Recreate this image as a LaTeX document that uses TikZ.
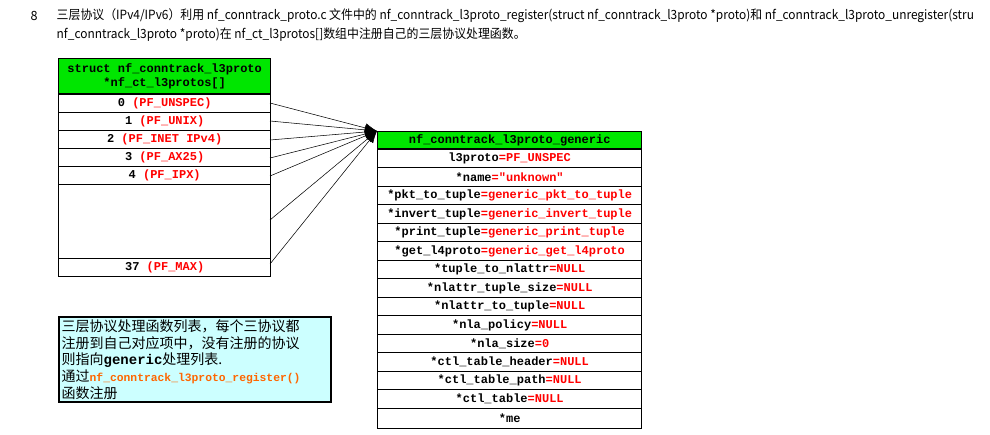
\documentclass[tikz,border=0pt]{standalone}
\usepackage{fontspec}
\setmainfont{Liberation Sans}
\newfontfamily\cjk{Noto Sans CJK SC}
\newfontfamily\codefont{Liberation Mono}
\usetikzlibrary{positioning,arrows.meta}
\definecolor{headgreen}{RGB}{0,230,0}
\definecolor{notecyan}{RGB}{204,255,255}
\definecolor{valred}{RGB}{255,0,0}
\definecolor{fnorange}{RGB}{255,102,0}

\begin{document}
\begin{tikzpicture}[
    x=0.75pt, y=-0.75pt,
    cell/.style={rectangle, draw, line width=1pt, inner sep=0pt, anchor=north west, font=\codefont\bfseries\fontsize{9}{10}\selectfont},
    lcell/.style={cell, minimum width=159pt, minimum height=13.5pt},
    rcell/.style={cell, minimum width=198pt, minimum height=13.9pt},
    head/.style={fill=headgreen},
    ptr/.style={-{Latex[length=9pt,width=7pt]}, thin}
]
\useasboundingbox (0,0) rectangle (990,435);

% Header text
\node[anchor=west, font=\cjk\fontsize{9.5}{11}\selectfont] (num) at (26,16) {8};
\node[anchor=west, font=\cjk\fontsize{9.5}{11}\selectfont] (line1) at (52,16) {\scalebox{0.94}[1]{三层协议（IPv4/IPv6）利用 nf\_conntrack\_proto.c 文件中的 nf\_conntrack\_l3proto\_register(struct nf\_conntrack\_l3proto *proto)和 nf\_conntrack\_l3proto\_unregister(stru}};
\node[anchor=west, font=\cjk\fontsize{9.5}{11}\selectfont] (line2) at (52,35) {\scalebox{0.94}[1]{nf\_conntrack\_l3proto *proto)在 nf\_ct\_l3protos[]数组中注册自己的三层协议处理函数。}};

% Left table
\node[lcell, head, minimum height=26.5pt, align=center] (arr) at (58,58) {struct nf\_conntrack\_l3proto\\*nf\_ct\_l3protos[]};
\node[lcell] (p0) at (58,94) {0 \textcolor{valred}{(PF\_UNSPEC)}};
\node[lcell] (p1) at (58,112) {1 \textcolor{valred}{(PF\_UNIX)}};
\node[lcell] (p2) at (58,130) {2 \textcolor{valred}{(PF\_INET IPv4)}};
\node[lcell] (p3) at (58,148) {3 \textcolor{valred}{(PF\_AX25)}};
\node[lcell] (p4) at (58,166) {4 \textcolor{valred}{(PF\_IPX)}};
\node[lcell, minimum height=55.5pt] (pgap) at (58,184) {};
\node[lcell] (p37) at (58,258) {37 \textcolor{valred}{(PF\_MAX)}};

% Right table
\node[rcell, head, minimum height=13pt] (gen) at (377,131) {nf\_conntrack\_l3proto\_generic};
\foreach \i/\fld/\v in {0/l3proto/PF\_UNSPEC, 1/*name/"unknown",
    2/*pkt\_to\_tuple/generic\_pkt\_to\_tuple, 3/*invert\_tuple/generic\_invert\_tuple,
    4/*print\_tuple/generic\_print\_tuple, 5/*get\_l4proto/generic\_get\_l4proto,
    6/*tuple\_to\_nlattr/NULL, 7/*nlattr\_tuple\_size/NULL, 8/*nlattr\_to\_tuple/NULL,
    9/*nla\_policy/NULL, 10/*nla\_size/0, 11/*ctl\_table\_header/NULL,
    12/*ctl\_table\_path/NULL, 13/*ctl\_table/NULL}
  \node[rcell] (g\i) at (377,{148.5+18.5*\i}) {\fld\textcolor{valred}{=\v}};
\node[rcell, minimum height=15pt] (gme) at (377,407.5) {*me};

% Pointers
\foreach \n/\y in {p0/103, p1/121, p2/140, p3/158, p4/176, pgap/220, p37/264}
  \draw[ptr] (270,\y) -- (gen.north west);

% Note
\node[draw, line width=1.5pt, fill=notecyan, anchor=north west, minimum width=204pt, minimum height=57pt,
      text width=200pt, inner sep=2pt, align=left, font=\cjk\fontsize{10.5}{12.5}\selectfont] (note) at (58,316)
  {三层协议处理函数列表，每个三协议都\\注册到自己对应项中，没有注册的协议\\则指向{\codefont\bfseries generic}处理列表.\\通过{\codefont\bfseries\fontsize{8.5}{10}\selectfont\color{fnorange}nf\_conntrack\_l3proto\_register()}\\函数注册};
\end{tikzpicture}
\end{document}
